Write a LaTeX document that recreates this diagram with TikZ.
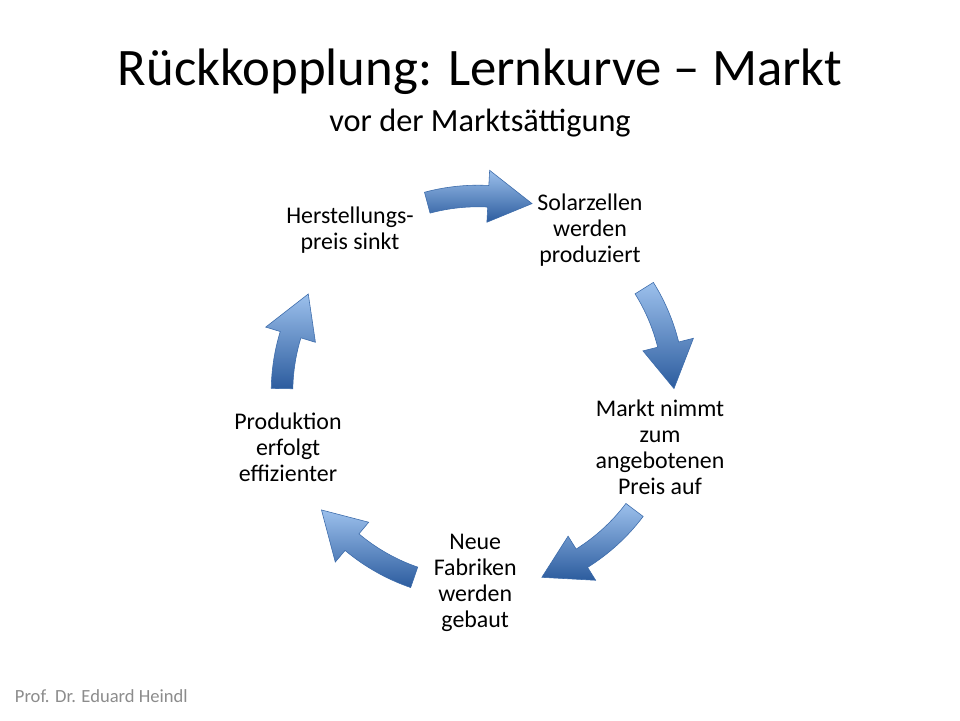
\documentclass[tikz,border=0pt]{standalone}
\usepackage{fontspec}
\setmainfont{Carlito}
\definecolor{blt}{HTML}{9CC0EC}
\definecolor{bdk}{HTML}{2C5C9E}
\definecolor{bln}{HTML}{3A6AAA}
\begin{document}
\begin{tikzpicture}
\useasboundingbox[fill=white] (0,0) rectangle (24,18);
\tikzset{lbl/.style={align=center,font=\fontsize{17}{18.5}\selectfont,inner sep=0pt},
 blk/.style={draw=bln,line width=0.4pt,top color=blt,bottom color=bdk}}
\newcommand{\cyc}[2]{%
 \pgfmathsetmacro{\hh}{#2+13}%
 \path[blk] (#1:5.17) arc[start angle=#1,end angle=\hh,radius=5.17] -- (\hh:5.55) -- (#2:4.9) -- (\hh:4.25) -- (\hh:4.63) arc[start angle=\hh,end angle=#1,radius=4.63] -- cycle;}
\begin{scope}[shift={(11.95,8.2)}]
\cyc{105}{74}
\cyc{32}{1}
\cyc{-37}{-71}
\cyc{-109}{-143}
\cyc{179}{150}
\end{scope}
\node[font=\fontsize{37.5}{40}\selectfont] (t) at (12,16.2) {Rückkopplung: Lernkurve – Markt};
\node[font=\fontsize{23}{26}\selectfont] (s) at (12,14.92) {vor der Marktsättigung};
\node[lbl] (a) at (8.75,12.25) {Herstellungs-\\preis sinkt};
\node[lbl] (b) at (14.75,12.25) {Solarzellen\\werden\\produziert};
\node[lbl] (c) at (16.5,6.82) {Markt nimmt\\zum\\angebotenen\\Preis auf};
\node[lbl] (d) at (11.88,3.42) {Neue\\Fabriken\\werden\\gebaut};
\node[lbl] (e) at (7.2,6.82) {Produktion\\erfolgt\\effizienter};
\node[font=\fontsize{13.2}{15}\selectfont,text=black!45,anchor=west] (f) at (0.25,0.6) {Prof. Dr. Eduard Heindl};
\end{tikzpicture}
\end{document}
